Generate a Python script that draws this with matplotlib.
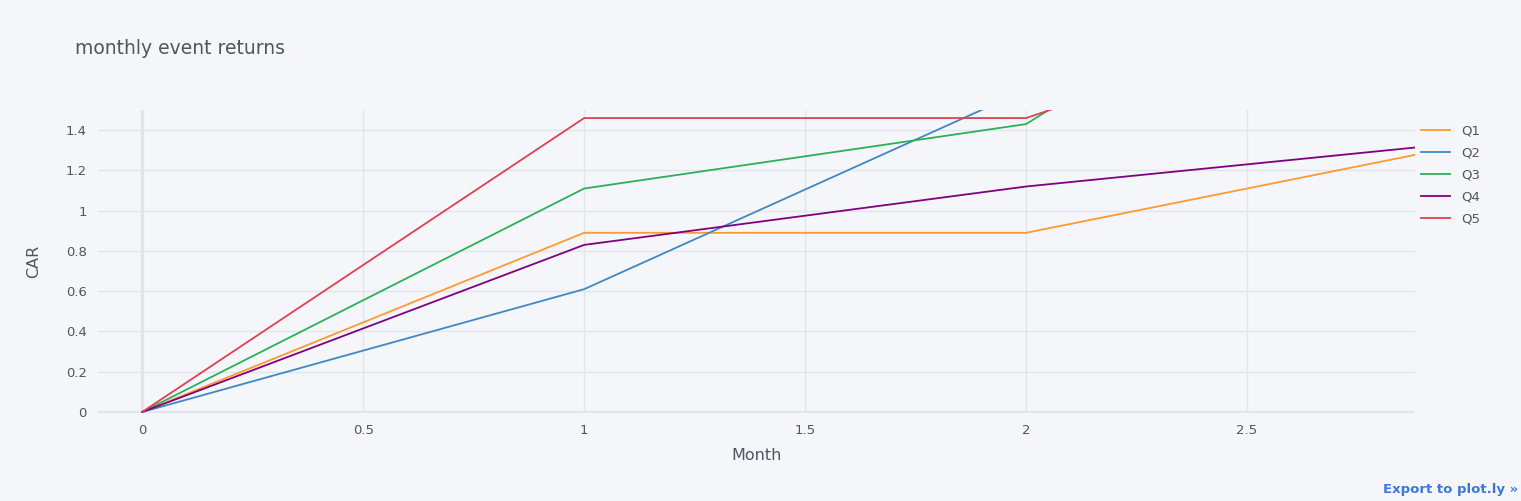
import matplotlib

matplotlib.use("Agg")
import matplotlib.pyplot as plt

months = [0, 1, 2, 3]
series = {
    "Q1": [0, 0.89, 0.89, 1.33],
    "Q2": [0, 0.61, 1.60, 2.30],
    "Q3": [0, 1.11, 1.43, 2.80],
    "Q4": [0, 0.83, 1.12, 1.34],
    "Q5": [0, 1.46, 1.46, 2.20],
}
colors = ["#ff9933", "#3f88c5", "#2cb05a", "#800080", "#e0404f"]
xticks = [0, 0.5, 1, 1.5, 2, 2.5]
yticks = [0, 0.2, 0.4, 0.6, 0.8, 1, 1.2, 1.4]

bg, grid, txt = "#f5f6f9", "#e1e5ed", "#4d5663"
W, H = 1521, 501
fig = plt.figure(figsize=(W / 100, H / 100), dpi=100)
fig.patch.set_facecolor(bg)
ax = fig.add_axes([98 / W, (H - 413) / H, (1415 - 98) / W, (413 - 110) / H])
ax.set_facecolor(bg)
for s in ax.spines.values():
    s.set_visible(False)

for (name, vals), c in zip(series.items(), colors):
    ax.plot(months, vals, color=c, lw=1.3, label=name, zorder=3)

ax.set_xlim(-0.1, 2.88)
ax.set_ylim(-0.005, 1.5)
ax.set_xticks(xticks)
ax.set_xticklabels(["0", "0.5", "1", "1.5", "2", "2.5"])
ax.set_yticks(yticks)
ax.set_yticklabels(["0", "0.2", "0.4", "0.6", "0.8", "1", "1.2", "1.4"])
ax.grid(True, color=grid, lw=1)
ax.axvline(0, color=grid, lw=2.5, zorder=1)
ax.axhline(0, color=grid, lw=2.5, zorder=1)
ax.tick_params(colors=txt, labelsize=9.5, length=0, pad=8)
ax.set_xlabel("Month", color=txt, fontsize=11.5, labelpad=8)
ax.set_ylabel("CAR", color=txt, fontsize=11.5, labelpad=18)

fig.text(75 / W, 1 - 48 / H, "monthly event returns", color=txt, fontsize=13.5, va="center")
ax.legend(loc="upper left", bbox_to_anchor=(1416 / W, 1 - 119 / H),
          bbox_transform=fig.transFigure, frameon=False, fontsize=9.5,
          labelcolor=txt, handlelength=2.2, labelspacing=0.68, borderaxespad=0)
fig.text(1518 / W, 1 - 490 / H, "Export to plot.ly »", color="#3d78d8",
         fontsize=9.5, fontweight="bold", ha="right", va="center")

fig.savefig("out.png", facecolor=bg)
